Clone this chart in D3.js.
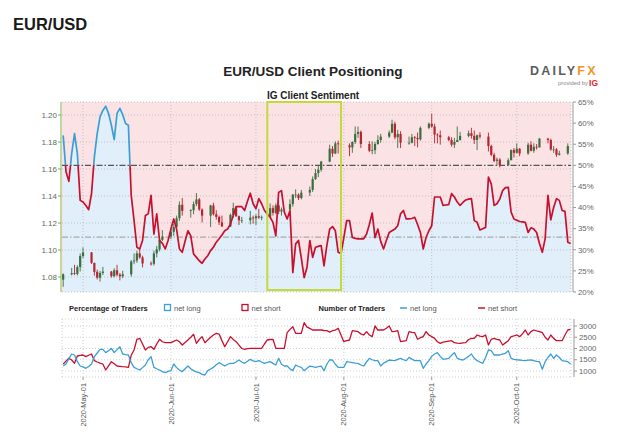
<!DOCTYPE html>
<html><head><meta charset="utf-8">
<script src="https://cdn.jsdelivr.net/npm/d3@7"></script>
<style>body{margin:0;background:#fff;} svg{display:block;font-family:"Liberation Sans",Arial,sans-serif;}</style>
</head><body><svg id="c" width="624" height="444"></svg>
<script>
// ---------------- DATA ----------------
const seriesStart = "2020-04-24"; // daily series start
const sentimentNetLongPct = [
57.1,48.5,46.2,52.8,57.5,52.8,41.7,41.3,40.5,39.5,
43.3,52.0,57.5,61.5,63.0,64.0,62.3,59.5,56.1,62.3,
63.5,62.0,59.9,59.5,42.9,36.9,30.6,30.2,32.2,38.1,
38.5,42.9,33.7,38.5,32.2,31.5,30.2,32.2,34.9,37.3,
34.9,30.2,29.4,32.0,34.5,33.3,29.0,28.2,27.4,26.8,
27.8,28.6,29.8,30.6,31.8,32.6,33.5,34.5,34.9,36.1,
38.1,40.2,40.2,40.2,39.3,41.5,43.4,40.9,39.7,42.1,
40.9,39.3,38.5,37.7,36.5,33.3,43.6,44.0,38.9,37.3,
39.3,24.6,31.4,32.2,28.0,23.4,25.8,32.2,28.2,30.6,
30.8,31.0,26.2,31.0,34.9,35.5,34.5,29.4,29.1,32.9,
36.9,36.9,32.9,32.7,32.6,32.6,32.6,33.7,36.0,38.7,
32.9,34.9,32.0,30.2,32.2,34.1,34.5,34.9,35.7,38.5,
39.3,37.3,37.3,37.4,37.7,36.0,34.1,30.2,32.9,34.5,
35.7,42.5,42.5,42.5,40.5,40.6,40.7,43.3,42.5,41.3,
40.5,41.2,41.8,42.0,42.1,36.9,36.5,34.7,35.0,35.3,
47.2,45.6,40.5,40.9,42.0,44.0,44.7,44.8,38.9,37.3,
37.0,36.7,36.6,36.5,34.1,35.2,34.9,34.1,31.5,29.4,
32.6,42.9,37.1,40.0,42.1,41.7,39.3,39.1,31.8,31.5];
const tradersNetShort = [
1311,1440,1563,1489,1341,1667,1690,1711,1637,1700,
1756,1459,1400,1350,1311,1044,1230,1415,1320,1222,
1210,1193,1180,1163,1700,1933,2409,2452,2200,1933,
2050,2081,1963,2200,2409,2300,2259,2259,2259,2320,
2378,2300,2156,2270,2378,2500,2630,2230,2400,2526,
2259,2380,2496,2600,2674,2644,2350,2081,2300,2526,
2400,2304,2150,2000,1963,1990,2007,2007,2007,2007,
2007,2200,2378,2400,2409,2007,2007,2007,2007,2704,
2850,2970,2674,2674,2674,3148,2950,2896,2822,2822,
2822,2822,2800,2793,2730,2790,2822,2896,2600,2304,
2348,2378,2793,2770,2748,2650,2600,2748,2600,2526,
3000,2822,2822,2822,2900,3000,2748,2760,2793,2304,
2330,2348,2748,2720,2704,2409,2480,2526,2748,2600,
2526,2452,2300,2230,2280,2304,2330,2348,2259,2240,
2230,2250,2259,2400,2452,2452,2600,2550,2526,2600,
2156,2409,2452,2410,2378,2156,2250,2348,2526,2560,
2600,2526,2650,2822,2600,2750,2822,2780,2748,2704,
2500,2378,2600,2450,2348,2348,2348,2600,2822,2852];
const tradersNetLong = [
1222,1311,1550,1756,1711,1415,1222,1180,1119,1200,
1311,1637,1800,1963,1963,1815,1900,2007,1815,1950,
2081,1756,1730,1711,1370,1163,1100,1044,1150,1267,
1500,1637,1163,1100,1044,970,926,980,1015,1311,
1150,1044,970,1100,1222,1100,1015,960,926,850,
822,1015,1090,1163,1280,1370,1300,1222,1300,1341,
1341,1400,1489,1400,1341,1430,1519,1450,1415,1459,
1400,1341,1380,1415,1340,1267,1563,1300,1222,1222,
1100,1015,1267,1200,1163,1015,1120,1222,1190,1163,
1190,1222,1015,1300,1500,1480,1300,1163,1163,1163,
1415,1390,1370,1350,1341,1267,1222,1400,1563,1500,
1459,1459,1222,1350,1415,1489,1470,1459,1520,1563,
1500,1459,1607,1530,1459,1459,1459,1119,1311,1459,
1650,1756,1815,1650,1519,1540,1563,1700,1815,1563,
1520,1489,1563,1650,1756,1563,1459,1400,1341,1600,
1933,1904,1711,1711,1711,1750,1785,1904,1563,1519,
1500,1489,1470,1459,1480,1489,1459,1430,1415,1074,
1415,1600,1756,1563,1711,1600,1459,1440,1415,1311];

const candleDates = [
"04-24","04-27","04-28","04-29","04-30",
"05-01","05-04","05-05","05-06","05-07","05-08","05-11","05-12","05-13","05-14","05-15","05-18","05-19","05-20","05-21","05-22","05-25","05-26","05-27","05-28","05-29",
"06-01","06-02","06-03","06-04","06-05","06-08","06-09","06-10","06-11","06-12","06-15","06-16","06-17","06-18","06-19","06-22","06-23","06-24","06-25","06-26","06-29","06-30",
"07-01","07-02","07-03","07-06","07-07","07-08","07-09","07-10","07-13","07-14","07-15","07-16","07-17","07-20","07-21","07-22","07-23","07-24","07-27","07-28","07-29","07-30","07-31",
"08-03","08-04","08-05","08-06","08-07","08-10","08-11","08-12","08-13","08-14","08-17","08-18","08-19","08-20","08-21","08-24","08-25","08-26","08-27","08-28","08-31",
"09-01","09-02","09-03","09-04","09-07","09-08","09-09","09-10","09-11","09-14","09-15","09-16","09-17","09-18","09-21","09-22","09-23","09-24","09-25","09-28","09-29","09-30",
"10-01","10-02","10-05","10-06","10-07","10-08","10-09","10-12","10-13","10-14","10-15","10-16","10-19"];
const candleOpen = [
1.0780,1.0820,1.0828,1.0823,1.0873,
1.0955,1.0982,1.0905,1.0838,1.0795,1.0830,1.0840,1.0806,1.0850,1.0817,1.0805,1.0820,1.0915,1.0922,1.0975,1.0945,1.0900,1.0898,1.0975,1.1005,1.1075,
1.1100,1.1135,1.1170,1.1235,1.1335,1.1290,1.1295,1.1340,1.1375,1.1300,1.1255,1.1330,1.1265,1.1245,1.1205,1.1175,1.1260,1.1310,1.1250,1.1220,1.1220,1.1240,
1.1235,1.1250,1.1240,1.1245,1.1310,1.1275,1.1330,1.1285,1.1300,1.1340,1.1410,1.1410,1.1385,1.1425,1.1445,1.1525,1.1570,1.1595,1.1655,1.1750,1.1715,1.1790,1.1785,
1.1775,1.1760,1.1800,1.1860,1.1875,1.1785,1.1735,1.1740,1.1785,1.1815,1.1840,1.1870,1.1935,1.1835,1.1860,1.1795,1.1795,1.1835,1.1830,1.1820,1.1905,
1.1935,1.1915,1.1855,1.1850,1.1835,1.1815,1.1780,1.1800,1.1815,1.1845,1.1865,1.1845,1.1815,1.1850,1.1840,1.1770,1.1705,1.1660,1.1670,1.1630,1.1665,1.1740,
1.1720,1.1750,1.1715,1.1780,1.1735,1.1765,1.1760,1.1825,1.1815,1.1745,1.1745,1.1705,1.1715];
const candleHigh = [
1.0827,1.0868,1.0890,1.0887,1.0974,
1.1019,1.0985,1.0905,1.0855,1.0845,1.0875,1.0845,1.0865,1.0890,1.0830,1.0846,1.0925,1.0975,1.0995,1.1009,1.0958,1.0915,1.0995,1.1030,1.1092,1.1147,
1.1155,1.1195,1.1255,1.1360,1.1385,1.1302,1.1360,1.1422,1.1385,1.1308,1.1335,1.1350,1.1295,1.1255,1.1255,1.1270,1.1350,1.1322,1.1255,1.1245,1.1290,1.1255,
1.1265,1.1305,1.1255,1.1345,1.1330,1.1345,1.1370,1.1315,1.1375,1.1415,1.1450,1.1420,1.1445,1.1470,1.1545,1.1600,1.1625,1.1660,1.1780,1.1770,1.1805,1.1810,1.1910,
1.1790,1.1805,1.1915,1.1915,1.1885,1.1805,1.1805,1.1800,1.1850,1.1860,1.1885,1.1965,1.1950,1.1890,1.1880,1.1840,1.1860,1.1845,1.1870,1.1915,1.1945,
1.2011,1.1935,1.1865,1.1885,1.1845,1.1835,1.1830,1.1915,1.1875,1.1885,1.1905,1.1885,1.1855,1.1872,1.1870,1.1780,1.1720,1.1685,1.1680,1.1680,1.1745,1.1755,
1.1790,1.1755,1.1795,1.1805,1.1790,1.1785,1.1830,1.1830,1.1825,1.1770,1.1755,1.1735,1.1790];
const candleLow = [
1.0727,1.0812,1.0815,1.0812,1.0841,
1.0940,1.0896,1.0810,1.0782,1.0766,1.0814,1.0795,1.0797,1.0805,1.0775,1.0791,1.0802,1.0895,1.0905,1.0935,1.0871,1.0885,1.0885,1.0945,1.0990,1.1066,
1.1080,1.1105,1.1165,1.1215,1.1255,1.1240,1.1265,1.1325,1.1290,1.1204,1.1170,1.1255,1.1225,1.1185,1.1170,1.1170,1.1240,1.1245,1.1185,1.1200,1.1190,1.1195,
1.1185,1.1230,1.1220,1.1245,1.1255,1.1265,1.1265,1.1255,1.1295,1.1320,1.1385,1.1370,1.1375,1.1400,1.1430,1.1520,1.1540,1.1580,1.1650,1.1690,1.1710,1.1715,1.1765,
1.1695,1.1720,1.1785,1.1830,1.1755,1.1725,1.1710,1.1710,1.1780,1.1795,1.1830,1.1865,1.1820,1.1755,1.1755,1.1780,1.1790,1.1770,1.1760,1.1810,1.1895,
1.1905,1.1790,1.1790,1.1780,1.1805,1.1765,1.1755,1.1800,1.1810,1.1835,1.1825,1.1785,1.1740,1.1825,1.1730,1.1695,1.1650,1.1625,1.1612,1.1625,1.1665,1.1685,
1.1715,1.1695,1.1705,1.1730,1.1720,1.1745,1.1760,1.1790,1.1735,1.1720,1.1690,1.1700,1.1705];
const candleClose = [
1.0820,1.0828,1.0823,1.0873,1.0955,
1.0982,1.0905,1.0838,1.0795,1.0830,1.0840,1.0806,1.0850,1.0817,1.0805,1.0820,1.0915,1.0922,1.0975,1.0945,1.0900,1.0898,1.0975,1.1005,1.1075,1.1100,
1.1135,1.1170,1.1235,1.1335,1.1290,1.1295,1.1340,1.1375,1.1300,1.1255,1.1330,1.1265,1.1245,1.1205,1.1175,1.1260,1.1310,1.1250,1.1220,1.1220,1.1240,1.1235,
1.1250,1.1240,1.1245,1.1310,1.1275,1.1330,1.1285,1.1300,1.1340,1.1410,1.1410,1.1385,1.1425,1.1445,1.1525,1.1570,1.1595,1.1655,1.1750,1.1715,1.1790,1.1785,1.1775,
1.1760,1.1800,1.1860,1.1875,1.1785,1.1735,1.1740,1.1785,1.1815,1.1840,1.1870,1.1935,1.1835,1.1860,1.1795,1.1795,1.1835,1.1830,1.1820,1.1905,1.1935,
1.1915,1.1855,1.1850,1.1835,1.1815,1.1780,1.1800,1.1815,1.1845,1.1865,1.1845,1.1815,1.1850,1.1840,1.1770,1.1705,1.1660,1.1670,1.1630,1.1665,1.1740,1.1720,
1.1750,1.1715,1.1780,1.1735,1.1765,1.1760,1.1825,1.1815,1.1745,1.1745,1.1705,1.1715,1.1770];

const priceTicks = [1.08,1.10,1.12,1.14,1.16,1.18,1.20];
const pctTicks = [20,25,30,35,40,45,50,55,60,65];
const traderTicks = [1000,1500,2000,2500,3000];
const monthTicks = ["2020-05-01","2020-06-01","2020-07-01","2020-08-01","2020-09-01","2020-10-01"];
const monthLabels = ["2020-May-01","2020-Jun-01","2020-Jul-01","2020-Aug-01","2020-Sep-01","2020-Oct-01"];
const neutralPct = 50;
const referencePct = 33;
const highlightDates = ["2020-07-05","2020-07-31"];

// ---------------- LAYOUT ----------------
const svg = d3.select("#c");
const parse = d3.utcParse("%Y-%m-%d");
const L = 62, R = 571, T = 102, B = 292;
const bT = 319, bB = 377;
const x = d3.scaleUtc().domain([new Date(Date.UTC(2020,3,23,14)), new Date(Date.UTC(2020,9,20,3))]).range([L, R]);
const yP = d3.scaleLinear().domain([1.08, 1.20]).range([277, 115]);
const yS = d3.scaleLinear().domain([20, 65]).range([B, T]);
const yN = d3.scaleLinear().domain([1000, 3000]).range([371, 326]);

const start = parse(seriesStart);
const days = sentimentNetLongPct.map((_, i) => d3.utcDay.offset(start, i));

const PINK = "#fbe2e5", BLUE_BG = "#e0eff9", BLUE = "#3a9fd6", RED = "#c8102e";
const UP = "#3d6e3f", DOWN = "#b5252f";

// titles
svg.append("text").attr("x", 13).attr("y", 30).attr("font-size", 16.5).attr("font-weight", "bold").attr("fill", "#1a1a1a").text("EUR/USD");
svg.append("text").attr("x", 313).attr("y", 76).attr("text-anchor", "middle").attr("font-size", 13.5).attr("font-weight", "bold").attr("fill", "#222").text("EUR/USD Client Positioning");
svg.append("text").attr("x", 313).attr("y", 99).attr("text-anchor", "middle").attr("font-size", 10).attr("font-weight", "bold").attr("fill", "#222").text("IG Client Sentiment");

// logo
const logo = svg.append("text").attr("x", 530).attr("y", 75).attr("font-size", 12.5).attr("font-weight", "bold").attr("letter-spacing", 2.2);
logo.append("tspan").attr("fill", "#5c5c5c").text("DAILY");
logo.append("tspan").attr("fill", "#f39322").text("FX");
svg.append("text").attr("x", 588).attr("y", 85).attr("text-anchor", "end").attr("font-size", 5.8).attr("fill", "#888").text("provided by");
svg.append("text").attr("x", 598).attr("y", 86).attr("text-anchor", "end").attr("font-size", 8.5).attr("font-weight", "bold").attr("fill", "#e3262b").text("IG");

// clip paths
const defs = svg.append("defs");
defs.append("clipPath").attr("id", "plot").append("rect").attr("x", L).attr("y", T).attr("width", R - L).attr("height", B - T);
defs.append("clipPath").attr("id", "above").append("rect").attr("x", L).attr("y", T - 5).attr("width", R - L).attr("height", yS(neutralPct) - T + 5);
defs.append("clipPath").attr("id", "below").append("rect").attr("x", L).attr("y", yS(neutralPct)).attr("width", R - L).attr("height", B - yS(neutralPct) + 5);
defs.append("clipPath").attr("id", "bottom").append("rect").attr("x", L).attr("y", bT).attr("width", R - L).attr("height", bB - bT);

// main background
svg.append("rect").attr("x", L).attr("y", T).attr("width", R - L).attr("height", B - T).attr("fill", PINK);
const sData = days.map((d, i) => ({d, v: sentimentNetLongPct[i]}));
svg.append("path").datum(sData).attr("clip-path", "url(#plot)")
  .attr("d", d3.area().x(p => x(p.d)).y0(B).y1(p => yS(p.v)))
  .attr("fill", BLUE_BG);

// grid
const grid = svg.append("g").attr("stroke", "#b9b9b9").attr("stroke-width", 0.8).attr("stroke-dasharray", "1,2");
grid.selectAll(".hg").data(priceTicks).join("line")
  .attr("x1", L).attr("x2", R).attr("y1", d => yP(d)).attr("y2", d => yP(d));
grid.selectAll(".vg").data(monthTicks).join("line")
  .attr("x1", d => x(parse(d))).attr("x2", d => x(parse(d))).attr("y1", T).attr("y2", B);
grid.append("line").attr("x1", L).attr("x2", R).attr("y1", T).attr("y2", T);
grid.append("line").attr("x1", R).attr("x2", R).attr("y1", T).attr("y2", B);
grid.append("line").attr("x1", L).attr("x2", R).attr("y1", B).attr("y2", B);

svg.append("line").attr("x1", L).attr("x2", R).attr("y1", yS(neutralPct)).attr("y2", yS(neutralPct))
  .attr("stroke", "#555").attr("stroke-width", 1.1).attr("stroke-dasharray", "6,2,1.5,2");
svg.append("line").attr("x1", L).attr("x2", R).attr("y1", yS(referencePct)).attr("y2", yS(referencePct))
  .attr("stroke", "#999").attr("stroke-width", 1).attr("stroke-dasharray", "6,2,1.5,2");

// candles
const candles = candleDates.map((d, i) => ({d: parse("2020-" + d), o: candleOpen[i], h: candleHigh[i], l: candleLow[i], c: candleClose[i]}));
const cg = svg.append("g").attr("clip-path", "url(#plot)");
const cs = cg.selectAll("g").data(candles).join("g");
cs.append("line").attr("x1", c => x(c.d)).attr("x2", c => x(c.d)).attr("y1", c => yP(c.h)).attr("y2", c => yP(c.l))
  .attr("stroke", c => c.c >= c.o ? UP : DOWN).attr("stroke-width", 0.9);
cs.append("rect").attr("x", c => x(c.d) - 1.1).attr("width", 2.2)
  .attr("y", c => yP(Math.max(c.o, c.c))).attr("height", c => Math.max(0.8, Math.abs(yP(c.o) - yP(c.c))))
  .attr("fill", c => c.c >= c.o ? UP : DOWN);

// sentiment line
const sLine = d3.line().x(p => x(p.d)).y(p => yS(p.v));
svg.append("path").datum(sData).attr("clip-path", "url(#above)").attr("d", sLine)
  .attr("fill", "none").attr("stroke", BLUE).attr("stroke-width", 1.7).attr("stroke-linejoin", "round");
svg.append("path").datum(sData).attr("clip-path", "url(#below)").attr("d", sLine)
  .attr("fill", "none").attr("stroke", RED).attr("stroke-width", 1.7).attr("stroke-linejoin", "round");

// highlight
const h0 = x(parse(highlightDates[0])), h1 = x(parse(highlightDates[1]));
svg.append("rect").attr("x", h0).attr("y", T).attr("width", h1 - h0).attr("height", B - T - 2)
  .attr("fill", "none").attr("stroke", "#c4da38").attr("stroke-width", 2);

// left axis (price)
svg.append("line").attr("x1", L - 1).attr("x2", L - 1).attr("y1", T).attr("y2", B).attr("stroke", "#7fb24a").attr("stroke-width", 1);
const la = svg.append("g");
la.selectAll("line").data(priceTicks).join("line").attr("x1", L - 4).attr("x2", L - 1).attr("y1", d => yP(d)).attr("y2", d => yP(d)).attr("stroke", "#7fb24a");
la.selectAll("text").data(priceTicks).join("text").attr("x", L - 5).attr("y", d => yP(d)).attr("dy", "0.35em")
  .attr("text-anchor", "end").attr("font-size", 8).attr("fill", "#5d6b52").text(d => d.toFixed(2));

// right axis (pct)
const RA = 573;
svg.append("line").attr("x1", RA).attr("x2", RA).attr("y1", T).attr("y2", B).attr("stroke", "#999");
const ra = svg.append("g");
ra.selectAll("line").data(pctTicks).join("line").attr("x1", RA).attr("x2", RA + 3).attr("y1", d => yS(d)).attr("y2", d => yS(d)).attr("stroke", "#999");
ra.selectAll("text").data(pctTicks).join("text").attr("x", RA + 5).attr("y", d => yS(d)).attr("dy", "0.35em")
  .attr("font-size", 7.8).attr("fill", "#666").text(d => d + "%");

// legend row
const LY = 311;
svg.append("text").attr("x", 69).attr("y", LY).attr("font-size", 7.5).attr("font-weight", "bold").attr("fill", "#222").text("Percentage of Traders");
svg.append("rect").attr("x", 164.5).attr("y", LY - 6.5).attr("width", 6).attr("height", 6).attr("fill", "#fff").attr("stroke", BLUE).attr("stroke-width", 1.3);
svg.append("text").attr("x", 174).attr("y", LY).attr("font-size", 7.5).attr("fill", "#555").text("net long");
svg.append("rect").attr("x", 242).attr("y", LY - 6.5).attr("width", 6).attr("height", 6).attr("fill", "#fff").attr("stroke", RED).attr("stroke-width", 1.3);
svg.append("text").attr("x", 251.5).attr("y", LY).attr("font-size", 7.5).attr("fill", "#555").text("net short");
svg.append("text").attr("x", 318.5).attr("y", LY).attr("font-size", 7.5).attr("font-weight", "bold").attr("fill", "#222").text("Number of Traders");
svg.append("line").attr("x1", 400).attr("x2", 407).attr("y1", LY - 3).attr("y2", LY - 3).attr("stroke", BLUE).attr("stroke-width", 1.5);
svg.append("text").attr("x", 410).attr("y", LY).attr("font-size", 7.5).attr("fill", "#555").text("net long");
svg.append("line").attr("x1", 478).attr("x2", 485).attr("y1", LY - 3).attr("y2", LY - 3).attr("stroke", RED).attr("stroke-width", 1.5);
svg.append("text").attr("x", 488).attr("y", LY).attr("font-size", 7.5).attr("fill", "#555").text("net short");

// bottom panel grid
const bg = svg.append("g").attr("stroke", "#c4c4c4").attr("stroke-width", 0.8).attr("stroke-dasharray", "1,2");
bg.selectAll(".h").data(traderTicks).join("line").attr("x1", L).attr("x2", R).attr("y1", d => yN(d)).attr("y2", d => yN(d));
bg.selectAll(".v").data(monthTicks).join("line").attr("x1", d => x(parse(d))).attr("x2", d => x(parse(d))).attr("y1", bT).attr("y2", bB);
bg.append("line").attr("x1", L).attr("x2", R).attr("y1", bT).attr("y2", bT);
bg.append("line").attr("x1", L).attr("x2", R).attr("y1", bB).attr("y2", bB);
bg.append("line").attr("x1", L).attr("x2", L).attr("y1", bT).attr("y2", bB);
bg.append("line").attr("x1", R).attr("x2", R).attr("y1", bT).attr("y2", bB);

const nLine = d3.line().x(p => x(p.d)).y(p => yN(p.v));
svg.append("path").datum(days.map((d, i) => ({d, v: tradersNetShort[i]}))).attr("clip-path", "url(#bottom)").attr("d", nLine)
  .attr("fill", "none").attr("stroke", RED).attr("stroke-width", 1.3).attr("stroke-linejoin", "round");
svg.append("path").datum(days.map((d, i) => ({d, v: tradersNetLong[i]}))).attr("clip-path", "url(#bottom)").attr("d", nLine)
  .attr("fill", "none").attr("stroke", BLUE).attr("stroke-width", 1.3).attr("stroke-linejoin", "round");

// bottom right axis
const RB = 574;
svg.append("line").attr("x1", RB).attr("x2", RB).attr("y1", bT).attr("y2", bB).attr("stroke", "#999");
const rb = svg.append("g");
rb.selectAll("line").data(traderTicks).join("line").attr("x1", RB).attr("x2", RB + 3).attr("y1", d => yN(d)).attr("y2", d => yN(d)).attr("stroke", "#999");
rb.selectAll("text").data(traderTicks).join("text").attr("x", RB + 5).attr("y", d => yN(d)).attr("dy", "0.35em")
  .attr("font-size", 7.8).attr("fill", "#666").text(d => d);

// bottom x axis
const xa = svg.append("g");
xa.selectAll("line").data(monthTicks).join("line").attr("x1", d => x(parse(d))).attr("x2", d => x(parse(d)))
  .attr("y1", bB).attr("y2", bB + 3).attr("stroke", "#999");
xa.selectAll("text").data(monthTicks).join("text")
  .attr("transform", d => `translate(${x(parse(d))},${bB + 6}) rotate(-90)`)
  .attr("dy", "0.35em").attr("text-anchor", "end").attr("font-size", 7.4).attr("fill", "#555")
  .text((d, i) => monthLabels[i]);
</script></body></html>
